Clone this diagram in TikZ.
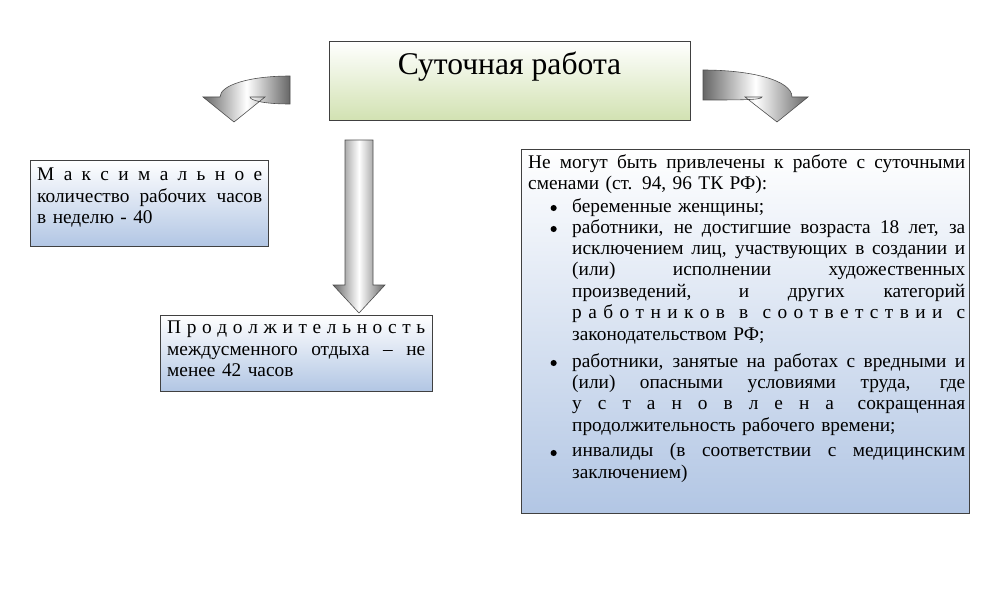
\documentclass[tikz,border=0pt]{standalone}
\usepackage{fontspec}
\setmainfont{Liberation Serif}
\definecolor{bl}{RGB}{178,198,228}
\definecolor{gr}{RGB}{210,226,178}
\def\ls#1{\lsA#1\relax}
\def\lsA#1#2{#1\ifx#2\relax\else\hfill\expandafter\lsA\expandafter#2\fi}
\newcommand\fl[1]{\makebox[\linewidth][s]{\spaceskip=0.25em plus 1fil\relax #1}}
\newcommand\gap{\hspace{0.4em}\hfill}
\begin{document}
\begin{tikzpicture}[x=0.03cm,y=-0.03cm,
  box/.style={draw=black!75,line width=0.6pt},
  txt/.style={inner sep=0pt,anchor=north west,align=left,font=\fontsize{16.5}{18.3}\selectfont},
  arr/.style={draw=black!70,line width=0.5pt,shading=axis,left color=black!60,right color=black!60,middle color=white}]
\useasboundingbox (0,0) rectangle (1005,590);
% title
\shade[box,top color=white,bottom color=gr] (329,41) rectangle (690,120);
\node (title) at (509.5,67) {\fontsize{27}{30}\selectfont Суточная работа};
% left box
\shade[box,top color=white,bottom color=bl] (30,160) rectangle (268,246);
\node[txt,text width=6.75cm] (lbox) at (37,168) {\fl{\ls{Максимальное}}\\ \fl{количество рабочих часов}\\ в неделю - 40};
% middle box
\shade[box,top color=white,bottom color=bl] (160,315) rectangle (432,391);
\node[txt,text width=7.74cm] (mbox) at (167,321) {\fl{\ls{Продолжительность}}\\ \fl{междусменного отдыха -- не}\\ менее 42 часов};
% right box
\shade[box,top color=white,bottom color=bl] (521,149) rectangle (969,513);
\node[txt,text width=13.11cm] (rbox) at (528,154) {\fl{Не могут быть привлечены к работе с суточными}\\ сменами (ст. 94, 96 ТК РФ):};
\node[txt,text width=11.79cm] (r1) at (572,198) {беременные женщины;};
\node[txt,text width=11.79cm] (r2) at (572,219) {\fl{работники, не достигшие возраста 18 лет, за}\\ \fl{исключением лиц, участвующих в создании и}\\ \fl{(или) исполнении художественных}\\ \fl{произведений, и других категорий}\\ \fl{\ls{работников}\gap\ls{в}\gap\ls{соответствии}\gap\ls{с}}\\ законодательством РФ;};
\node[txt,text width=11.79cm] (r3) at (572,353) {\fl{работники, занятые на работах с вредными и}\\ \fl{(или) опасными условиями труда, где}\\ \fl{\ls{установлена}\gap сокращенная}\\ продолжительность рабочего времени;};
\node[txt,text width=11.79cm] (r4) at (572,443) {\fl{инвалиды (в соответствии с медицинским}\\ заключением)};
\foreach \n in {r1,r2,r3,r4} \fill ([xshift=-0.55cm,yshift=-0.3cm]\n.north west) circle (2.6pt);
% down arrow
\shade[arr] (345,140) -- (373,140) -- (373,285) -- (385,285) -- (359,313) -- (333,285) -- (345,285) -- cycle;
% left curved arrow
\shade[arr] (290,76) .. controls (250,76) and (220,85) .. (220,97) -- (203,97) -- (234,122) -- (265,97) -- (250,97) .. controls (250,100) and (262,104) .. (290,104) -- cycle;
% right curved arrow
\shade[arr] (703,70) .. controls (750,70) and (792,80) .. (792,97) -- (808,97) -- (777,122) -- (745,97) -- (762,97) .. controls (762,100) and (740,100) .. (703,100) -- cycle;
\end{tikzpicture}
\end{document}
